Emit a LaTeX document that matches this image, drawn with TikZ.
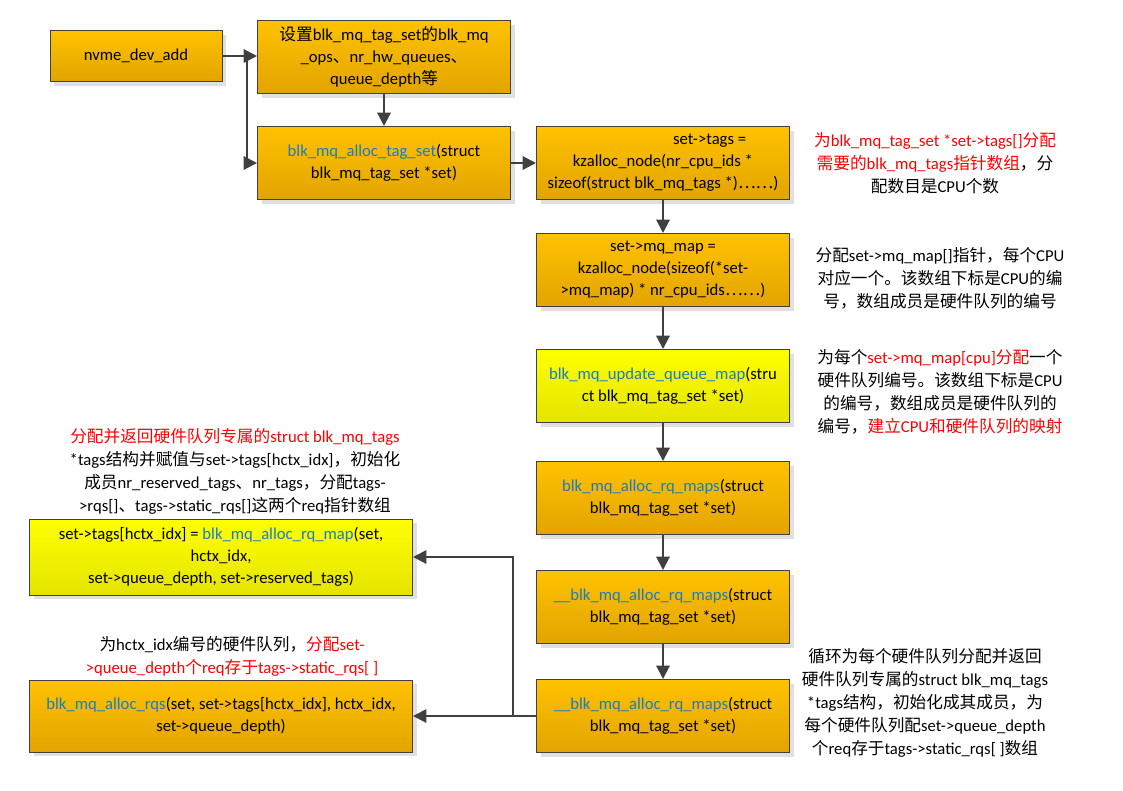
\documentclass[tikz,border=0pt]{standalone}
\usepackage{fontspec}
\setmainfont{Carlito}
\newfontfamily\cjk{Noto Sans CJK SC}
\usetikzlibrary{arrows.meta,shadows}

% switch to the CJK family for Chinese characters
\XeTeXinterchartokenstate=1
\newXeTeXintercharclass\hanzi
\newcount\hzc
\hzc="4E00
\loop\XeTeXcharclass\hzc=\hanzi \ifnum\hzc<"9FFF \advance\hzc by 1 \repeat
\hzc="3000
\loop\XeTeXcharclass\hzc=\hanzi \ifnum\hzc<"303F \advance\hzc by 1 \repeat
\hzc="FF00
\loop\XeTeXcharclass\hzc=\hanzi \ifnum\hzc<"FFEF \advance\hzc by 1 \repeat
\XeTeXcharclass"2026=\hanzi
\XeTeXinterchartoks 0 \hanzi = {\cjk}
\XeTeXinterchartoks 4095 \hanzi = {\cjk}
\XeTeXinterchartoks \hanzi 0 = {\rmfamily}
\XeTeXinterchartoks \hanzi 4095 = {\rmfamily}

\definecolor{boxtop}{RGB}{255,194,0}
\definecolor{boxbot}{RGB}{226,164,0}
\definecolor{ylwtop}{RGB}{255,255,0}
\definecolor{ylwbot}{RGB}{228,228,0}
\definecolor{edgegray}{RGB}{64,64,64}
\definecolor{fnblue}{RGB}{25,125,195}
\definecolor{notered}{RGB}{255,0,0}

\begin{document}
\begin{tikzpicture}[x=0.75pt, y=-0.75pt]

  \newcommand{\fname}[1]{\textcolor{fnblue}{#1}}
  \newcommand{\hl}[1]{\textcolor{notered}{#1}}
  \tikzset{
    callbox/.style = {draw=edgegray, line width=0.75pt,
      top color=boxtop, bottom color=boxbot,
      align=center, inner sep=2pt,
      font=\fontsize{12.5}{16.5}\selectfont,
      drop shadow={shadow xshift=3pt, shadow yshift=-3pt, fill=black!12, opacity=1}},
    mainbox/.style = {callbox, minimum width=189.75pt, minimum height=54.75pt},
    hotbox/.style = {top color=ylwtop, bottom color=ylwbot},
    note/.style = {align=center, font=\fontsize{12.5}{17.25}\selectfont},
    flow/.style = {draw=edgegray, line width=1.5pt, -{Triangle[length=10pt,width=10pt]}}
  }
  \useasboundingbox (0,0) rectangle (1123,790);

  \node[callbox, minimum width=129pt, minimum height=38.25pt] (devadd) at (136,56) {nvme\_dev\_add};
  \node[mainbox] (setops) at (384,57) {设置blk\_mq\_tag\_set的blk\_mq\\\_ops、nr\_hw\_queues、\\queue\_depth等};
  \node[mainbox] (alloctagset) at (384,163) {\fname{blk\_mq\_alloc\_tag\_set}(struct\\blk\_mq\_tag\_set *set)};
  \node[mainbox] (settags) at (663,163) {\hspace*{70pt}set->tags =\\kzalloc\_node(nr\_cpu\_ids *\\sizeof(struct blk\_mq\_tags *)……)};
  \node[mainbox] (mqmap) at (663,270) {set->mq\_map =\\kzalloc\_node(sizeof(*set-\\>mq\_map) * nr\_cpu\_ids……)};
  \node[mainbox, hotbox] (updatemap) at (663,386) {\fname{blk\_mq\_update\_queue\_map}(stru\\ct blk\_mq\_tag\_set *set)};
  \node[mainbox] (rqmaps) at (663,498) {\fname{blk\_mq\_alloc\_rq\_maps}(struct\\blk\_mq\_tag\_set *set)};
  \node[mainbox] (rqmapsa) at (663,607) {\fname{\_\_blk\_mq\_alloc\_rq\_maps}(struct\\blk\_mq\_tag\_set *set)};
  \node[mainbox] (rqmapsb) at (663,716) {\fname{\_\_blk\_mq\_alloc\_rq\_maps}(struct\\blk\_mq\_tag\_set *set)};
  \node[callbox, hotbox, minimum width=287.25pt, minimum height=57pt] (rqmap) at (221,557) {set->tags[hctx\_idx] = \fname{blk\_mq\_alloc\_rq\_map}(set,\\hctx\_idx,\\set->queue\_depth, set->reserved\_tags)};
  \node[callbox, minimum width=287.25pt, minimum height=54pt] (allocrqs) at (221,716) {\fname{blk\_mq\_alloc\_rqs}(set, set->tags[hctx\_idx], hctx\_idx,\\set->queue\_depth)};

  % notes
  \node[note] (tagsnote) at (935,163) {\hl{为blk\_mq\_tag\_set *set->tags[]分配}\\\hl{需要的blk\_mq\_tags指针数组}，分\\配数目是CPU个数};
  \node[note] (mapnote) at (940,278) {分配set->mq\_map[]指针，每个CPU\\对应一个。该数组下标是CPU的编\\号，数组成员是硬件队列的编号};
  \node[note] (updnote) at (940,392) {为每个\hl{set->mq\_map[cpu]分配}一个\\硬件队列编号。该数组下标是CPU\\的编号，数组成员是硬件队列的\\编号，\hl{建立CPU和硬件队列的映射}};
  \node[note] (rqmapnote) at (235,471) {\hl{分配并返回硬件队列专属的struct blk\_mq\_tags}\\{*}tags结构并赋值与set->tags[hctx\_idx]，初始化\\成员nr\_reserved\_tags、nr\_tags，分配tags-\\>rqs[]、tags->static\_rqs[]这两个req指针数组};
  \node[note] (rqsnote) at (232,656) {为hctx\_idx编号的硬件队列，\hl{分配set-}\\\hl{>queue\_depth个req存于tags->static\_rqs[ ]}};
  \node[note] (loopnote) at (925,703) {循环为每个硬件队列分配并返回\\硬件队列专属的struct blk\_mq\_tags\\{*}tags结构，初始化成其成员，为\\每个硬件队列配set->queue\_depth\\个req存于tags->static\_rqs[ ]数组};

  % connectors
  \coordinate (fork) at ([xshift=18pt]devadd.east);
  \coordinate (junc) at (513,716);
  \draw[flow] (devadd.east) -- (setops.west |- devadd.east);
  \draw[flow] (fork) |- (alloctagset.west);
  \draw[flow] (setops) -- (alloctagset);
  \draw[flow] (alloctagset) -- (settags);
  \draw[flow] (settags) -- (mqmap);
  \draw[flow] (mqmap) -- (updatemap);
  \draw[flow] (updatemap) -- (rqmaps);
  \draw[flow] (rqmaps) -- (rqmapsa);
  \draw[flow] (rqmapsa) -- (rqmapsb);
  \draw[flow] (rqmapsb) -- (allocrqs);
  \draw[flow] (junc) |- (rqmap.east);

\end{tikzpicture}
\end{document}
